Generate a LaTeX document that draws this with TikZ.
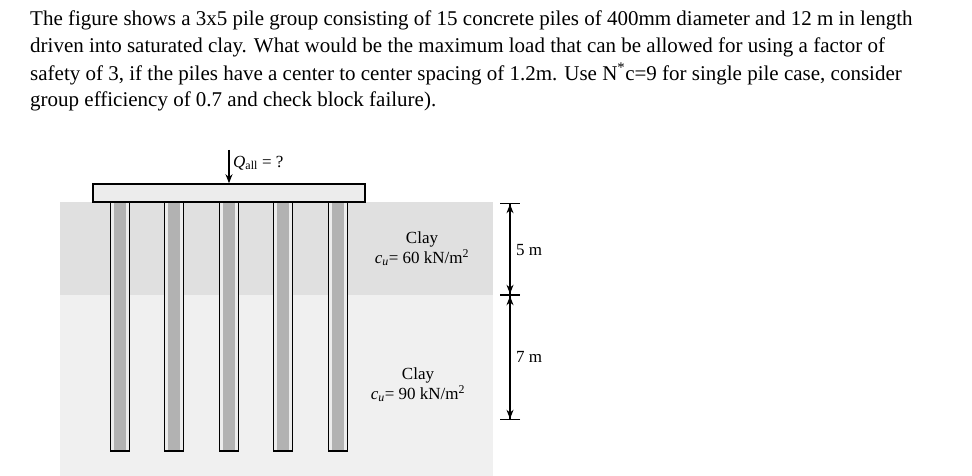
\documentclass[tikz,border=0pt]{standalone}
\usepackage{fontspec}
\setmainfont{Liberation Serif}
\usetikzlibrary{arrows.meta, positioning}
\definecolor{clayupper}{RGB}{224,224,224}
\definecolor{claylower}{RGB}{240,240,240}
\definecolor{capcol}{RGB}{236,236,236}
\definecolor{pilecol}{RGB}{178,178,178}

\begin{document}
\begin{tikzpicture}[
			x=1pt, y=-1pt,
			line/.style={
				font=\fontsize{21}{24}\selectfont,
				anchor=west,
				inner sep=0pt
			},
			soil/.style={
				font=\fontsize{17}{20}\selectfont,
				inner sep=1pt
			},
			pile/.style={
				draw=black,
				line width=1.6pt,
				fill=capcol
			},
			dimarrow/.style={
				{Bar[width=20pt]Stealth[length=9pt,width=7pt]}-{Stealth[length=9pt,width=7pt]Bar[width=20pt]},
				line width=1.2pt
			}
			]
			\useasboundingbox (0,0) rectangle (972,476);
			% Question text
			\node[line] (l1) at (30,20) {The figure shows a 3x5 pile group consisting of 15 concrete piles of 400mm diameter and 12 m in length};
			\node[line] (l2) at (30,47) {driven into saturated clay. What would be the maximum load that can be allowed for using a factor of};
			\node[line] (l3) at (30,74) {safety of 3, if the piles have a center to center spacing of 1.2m. Use N\textsuperscript{*}c=9 for single pile case, consider};
			\node[line] (l4) at (30,101) {group efficiency of 0.7 and check block failure).};
			
			% Soil layers
			\fill[clayupper] (60,202) rectangle (493,295);
			\fill[claylower] (60,295) rectangle (493,476);
			
			% Piles
			\foreach \px in {120,174,229,283,338} {
				\draw[pile] (\px-9.5,202) rectangle (\px+9.5,451);
				\fill[pilecol] (\px-6,203) rectangle (\px+6,450);
			}
			
			% Pile cap and load
			\node[draw, line width=1.6pt, fill=capcol, minimum width=272pt, minimum height=18pt, inner sep=0pt] (cap) at (229,193) {};
			\coordinate (load) at (229,150);
			\draw[-{Stealth[length=9pt,width=7pt]}, line width=1.2pt] (load) -- (cap.north);
			\node[soil, anchor=west] (qall) at (232,163) {\textit{Q}\textsubscript{all} = ?};
			
			% Soil labels
			\node[soil] (clay1) at (422,239) {Clay};
			\node[soil] (cu1) [below=0pt of clay1] {\textit{c\textsubscript{u}}= 60 kN/m\textsuperscript{2}};
			\node[soil] (clay2) at (418,375) {Clay};
			\node[soil] (cu2) [below=0pt of clay2] {\textit{c\textsubscript{u}}= 90 kN/m\textsuperscript{2}};
			
			% Dimensions
			\coordinate (dtop) at (510,203);
			\coordinate (dmid) at (510,295);
			\coordinate (dbot) at (510,420);
			\draw[dimarrow] (dtop) -- (dmid);
			\draw[dimarrow] (dmid) -- (dbot);
			\node[soil, anchor=west] (d5) at (515,250) {5 m};
			\node[soil, anchor=west] (d7) at (515,357) {7 m};
		\end{tikzpicture}
\end{document}
